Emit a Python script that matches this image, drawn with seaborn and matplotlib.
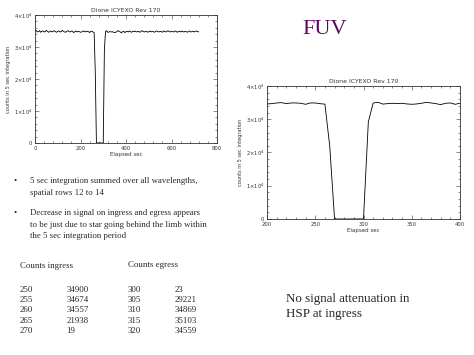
import numpy as np
import pandas as pd
import seaborn as sns
import matplotlib.pyplot as plt
from matplotlib.ticker import MultipleLocator, AutoMinorLocator, FixedFormatter, FixedLocator

# elapsed time, 5 sec integrations
elapsed = np.arange(0, 725, 5)
counts = [
    34900, 35200, 34700, 34800, 35100, 34600, 34900, 35000, 34700, 34800,
    35200, 34900, 34600, 34800, 35000, 34700, 34900, 35100, 34800, 34600,
    34900, 35000, 34700, 34800, 35200, 34900, 34700, 34600, 34900, 35100,
    34800, 34700, 35000, 34900, 34500, 34800, 35000, 34700, 34900, 34800,
    34600, 34700, 34900, 35000, 34700, 34900, 34900, 34800, 34500, 34900,
    34900, 34674, 34557, 21938, 19, 0, 0, 0, 0, 0,
    23, 29221, 34869, 35103, 34559, 34700, 34800, 34700, 34800, 34600,
    34500, 34600, 34800, 35100, 34900, 34700, 34400, 34800, 34900, 34500,
    34800, 34900, 34700, 35000, 34800, 34600, 34900, 34800, 35000, 34700,
    34800, 34900, 34600, 34800, 35100, 34900, 34700, 34800, 34900, 34600,
    34800, 35000, 34700, 34900, 34800, 34600, 34900, 35000, 34800, 34700,
    34900, 34800, 34600, 35000, 34800, 34700, 34900, 35100, 34800, 34700,
    34900, 34800, 34700, 35000, 34900, 34600, 34800, 34900, 34700, 35000,
    34800, 34700, 34900, 34800, 34600, 34900, 35000, 34700, 34800, 34900,
    34700, 34900, 35000, 34800, 34700,
]
df = pd.DataFrame({"elapsed": elapsed, "counts": counts})

ingress_t = [250, 255, 260, 265, 270]
ingress_c = [34900, 34674, 34557, 21938, 19]
egress_t = [300, 305, 310, 315, 320]
egress_c = [23, 29221, 34869, 35103, 34559]

ytick_vals = [0, 10000, 20000, 30000, 40000]
ytick_labels = ["0", r"$1{\times}10^4$", r"$2{\times}10^4$", r"$3{\times}10^4$", r"$4{\times}10^4$"]

sns.set_style("ticks")
plt.rcParams['font.family'] = ['DejaVu Sans']

W, H = 474, 355
fig = plt.figure(figsize=(W / 100, H / 100), dpi=100)


def px(x, y):
    return x / W, 1 - y / H


def idl_axes(rect, xlim, xmajor, xminor):
    ax = fig.add_axes(rect)
    sns.lineplot(data=df, x="elapsed", y="counts", ax=ax, color="black", linewidth=0.6)
    ax.set_xlim(*xlim)
    ax.set_ylim(0, 40000)
    ax.xaxis.set_major_locator(MultipleLocator(xmajor))
    ax.xaxis.set_minor_locator(AutoMinorLocator(xminor))
    ax.yaxis.set_major_locator(FixedLocator(ytick_vals))
    ax.yaxis.set_major_formatter(FixedFormatter(ytick_labels))
    ax.yaxis.set_minor_locator(AutoMinorLocator(5))
    ax.tick_params(which="both", direction="in", top=True, right=True,
                   labelsize=3.8, width=0.4, pad=2, colors="#333333")
    ax.tick_params(which="major", length=3)
    ax.tick_params(which="minor", length=1.5)
    for s in ax.spines.values():
        s.set_linewidth(0.6)
        s.set_color("#333333")
    ax.set_title("Dione ICYEXO Rev 170", fontsize=4.4, pad=2, color="#333333")
    ax.set_xlabel("Elapsed sec", fontsize=4, labelpad=1, color="#333333")
    ax.set_ylabel("counts in 5 sec integration", fontsize=3.6, labelpad=2, color="#333333")
    return ax


ax1 = idl_axes([35 / W, 1 - 143 / H, 182 / W, 128 / H], (0, 800), 200, 5)
ax2 = idl_axes([267 / W, 1 - 219 / H, 193 / W, 133 / H], (200, 400), 50, 5)

serif = ['Liberation Serif', 'DejaVu Serif']

fig.text(*px(325, 30), "FUV", fontsize=16, family=serif, color="#5c0a5e",
         ha="center", va="center")

bullets = [
    (181, ["5 sec integration summed over all wavelengths,", "spatial rows 12 to 14"]),
    (213, ["Decrease in signal on ingress and egress appears",
           "to be just due to star going behind the limb within",
           "the 5 sec integration period"]),
]
for y0, lines in bullets:
    fig.text(*px(13, y0), "\u2022", fontsize=6.3, family=serif, va="center")
    for i, line in enumerate(lines):
        fig.text(*px(30, y0 + i * 11.5), line, fontsize=6.3, family=serif, va="center")

fig.text(*px(20, 266), "Counts ingress", fontsize=6.4, family=serif, va="center")
fig.text(*px(128, 265), "Counts egress", fontsize=6.4, family=serif, va="center")
row_y = [290, 300, 310.5, 321, 331]
for i, y in enumerate(row_y):
    fig.text(*px(20, y), str(ingress_t[i]), fontsize=6.4, family=serif, va="center")
    fig.text(*px(66.5, y), str(ingress_c[i]), fontsize=6.4, family=serif, va="center")
    fig.text(*px(127.5, y), str(egress_t[i]), fontsize=6.4, family=serif, va="center")
    fig.text(*px(175, y), str(egress_c[i]), fontsize=6.4, family=serif, va="center")

fig.text(*px(286, 299), "No signal attenuation in", fontsize=9.4, family=serif, va="center")
fig.text(*px(286, 314), "HSP at ingress", fontsize=9.4, family=serif, va="center")

fig.savefig("out.png", dpi=100)
